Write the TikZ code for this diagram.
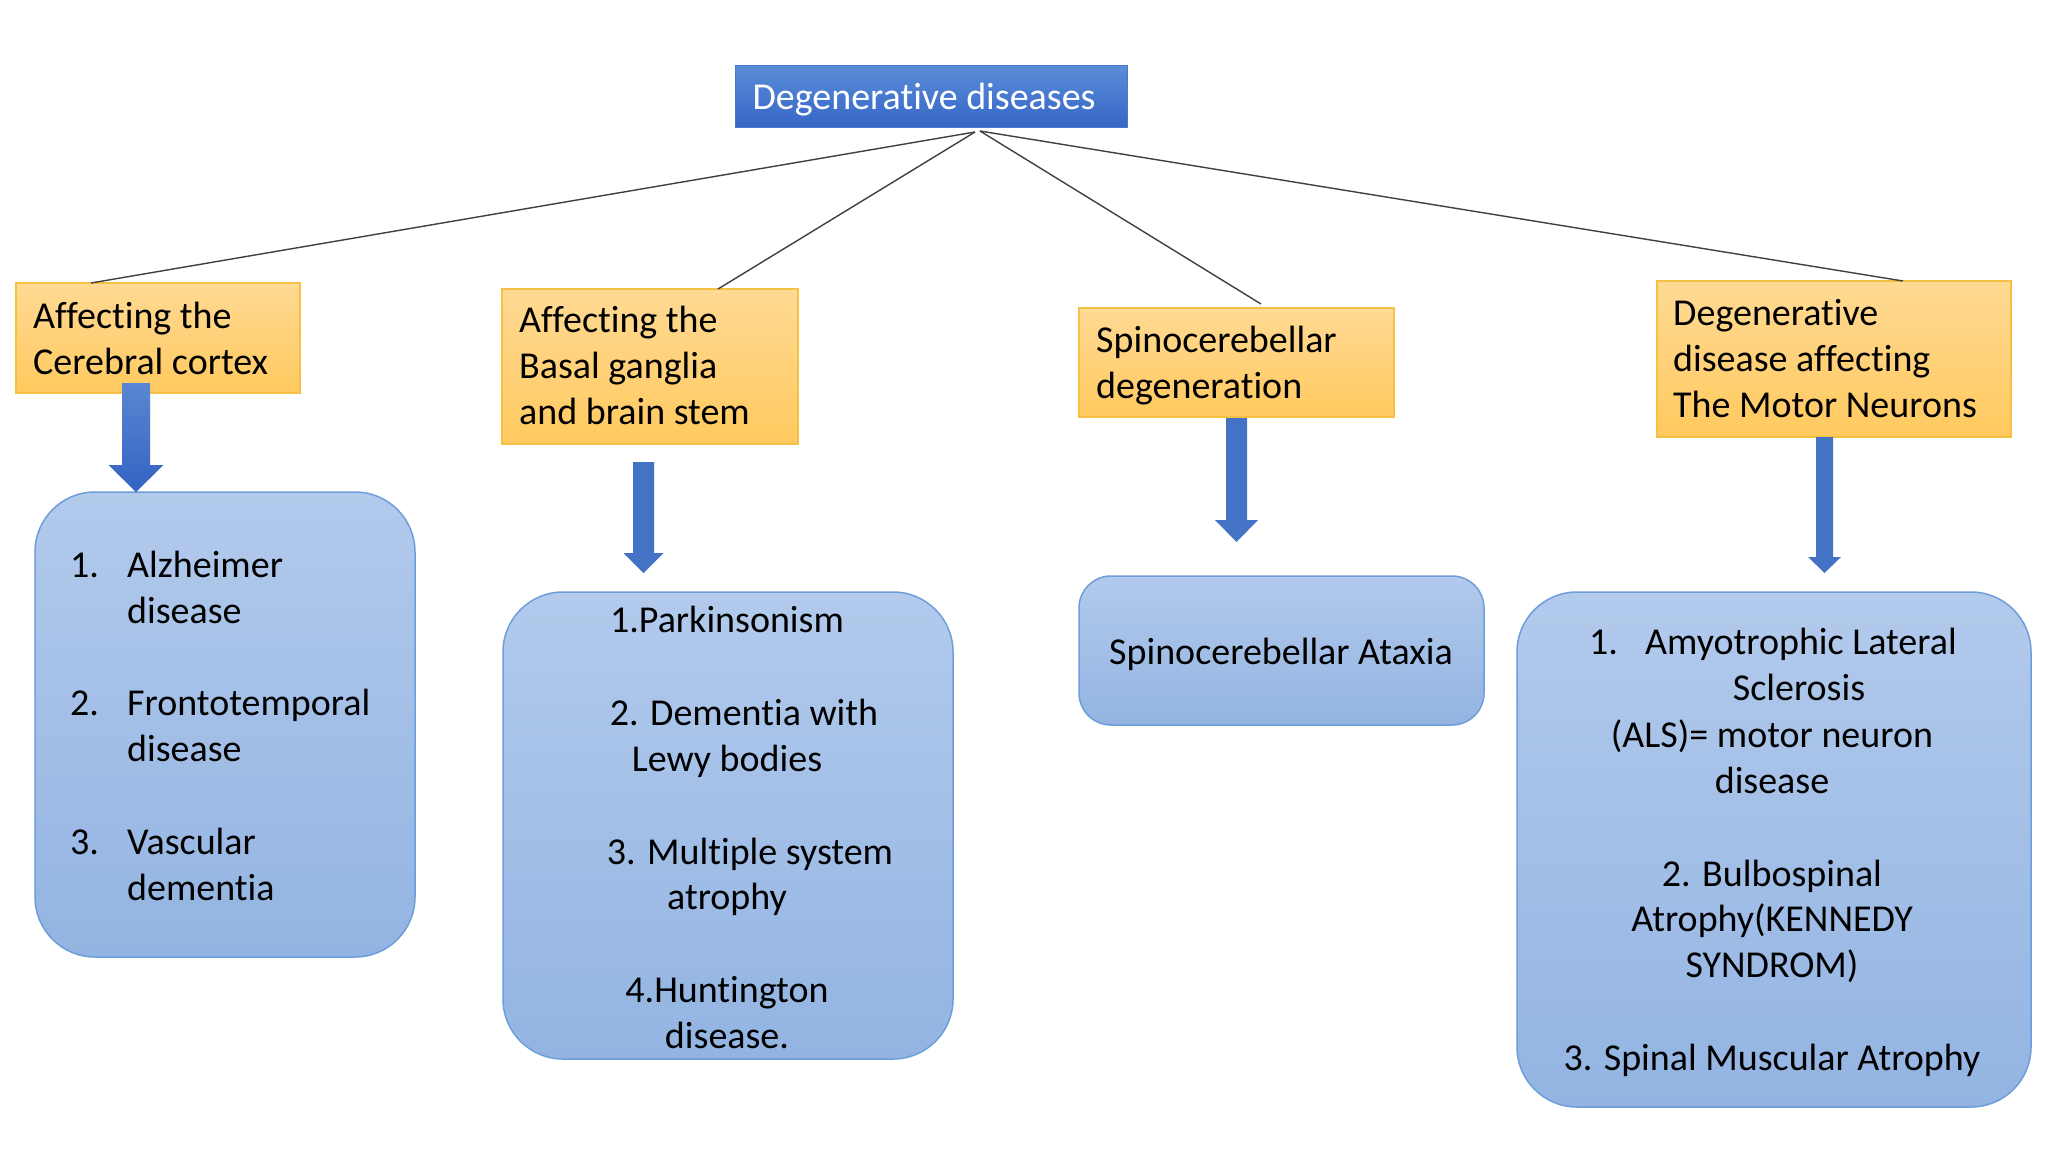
\documentclass[tikz,border=0pt]{standalone}
\usepackage{fontspec}
\setmainfont{Carlito}[Ligatures={NoCommon,NoRequired,NoContextual}]
\definecolor{orT}{HTML}{FFDA94}
\definecolor{orB}{HTML}{FFC95E}
\definecolor{orD}{HTML}{F5C145}
\definecolor{blT}{HTML}{B2CAEC}
\definecolor{blB}{HTML}{93B4E2}
\definecolor{blD}{HTML}{6E9EDA}
\definecolor{tpT}{HTML}{5B8DD9}
\definecolor{tpB}{HTML}{3566C6}
\definecolor{tpD}{HTML}{4A78CC}
\definecolor{arT}{HTML}{5987D3}
\definecolor{arB}{HTML}{3363C2}
\definecolor{arF}{HTML}{4472C4}
\definecolor{lnk}{HTML}{404040}
\newcommand{\downarr}[7]{%
  \shade[#7]
    (#1-#2,#3) -- (#1+#2,#3) -- (#1+#2,#4) -- (#1+#5,#4) -- (#1,#6)
    -- (#1-#5,#4) -- (#1-#2,#4) -- cycle;}
\begin{document}
\begin{tikzpicture}[x=1pt,y=-1pt,
  font=\fontsize{38}{46}\selectfont,
  obox/.style={draw=orD, line width=1.5pt, top color=orT, bottom color=orB,
    inner sep=0pt, outer sep=0pt, anchor=north west},
  bbox/.style={draw=blD, line width=1.5pt, top color=blT, bottom color=blB,
    inner sep=0pt, outer sep=0pt, anchor=north west, rounded corners=60pt},
  tbox/.style={draw=tpD, line width=1pt, top color=tpT, bottom color=tpB,
    inner sep=0pt, outer sep=0pt, anchor=north west},
  txt/.style={inner sep=0pt, anchor=base west},
  ctxt/.style={inner sep=0pt, anchor=base},
  link/.style={draw=lnk, line width=1.4pt},
  garrow/.style={top color=arT, bottom color=arB},
  farrow/.style={top color=arF, bottom color=arF}]
\useasboundingbox[fill=white] (0,0) rectangle (2048,1152);

% top node
\node[tbox, minimum width=392pt, minimum height=62pt] (top) at (735,65) {};
\node[ctxt, text=white] (toptxt) at (924,109) {Degenerative diseases};
\coordinate (hubL) at (975,132);
\coordinate (hubR) at (980,131);

% orange boxes
\node[obox, minimum width=284pt, minimum height=110pt] (A) at (16,283) {};
\node[obox, minimum width=296pt, minimum height=155pt] (B) at (502,289) {};
\node[obox, minimum width=315pt, minimum height=109pt] (C) at (1079,308) {};
\node[obox, minimum width=354pt, minimum height=156pt] (D) at (1657,281) {};

\coordinate (eA) at (91,283);
\coordinate (eB) at (718,289);
\coordinate (eC) at (1261,304);
\coordinate (eD) at (1903,281);
\draw[link] (hubL) -- (eA);
\draw[link] (hubL) -- (eB);
\draw[link] (hubR) -- (eC);
\draw[link] (hubR) -- (eD);

\node[txt] (a1) at (33,328) {Affecting the};
\node[txt] (a2) at (33,374) {Cerebral cortex};
\node[txt] (b1) at (519,332) {Affecting the};
\node[txt] (b2) at (519,378) {Basal ganglia};
\node[txt] (b3) at (519,424) {and brain stem};
\node[txt] (c1) at (1096,352) {Spinocerebellar};
\node[txt] (c2) at (1096,398) {degeneration};
\node[txt] (d1) at (1673,325) {Degenerative};
\node[txt] (d2) at (1673,371) {disease affecting};
\node[txt] (d3) at (1673,417) {The Motor Neurons};

% blue boxes
\node[bbox, minimum width=380pt, minimum height=465pt] (P) at (35,492) {};
\node[bbox, minimum width=450pt, minimum height=467pt] (Q) at (503,592) {};
\node[bbox, minimum width=405pt, minimum height=149pt, rounded corners=32pt] (R) at (1079,576) {};
\node[bbox, minimum width=514pt, minimum height=515pt] (S) at (1517,592) {};

% arrows
\downarr{136}{14}{383}{465}{27.5}{492}{garrow}
\downarr{643.5}{10.5}{462}{553}{20}{573}{farrow}
\downarr{1236.5}{10.5}{418}{520}{21.5}{542}{farrow}
\downarr{1824.5}{8.5}{437}{557}{16.5}{573}{farrow}

% box P text
\node[txt] (p1n) at (70,577) {1.};
\node[txt] (p1) at (127,577) {Alzheimer};
\node[txt] (p1b) at (127,623) {disease};
\node[txt] (p2n) at (70,715) {2.};
\node[txt] (p2) at (127,715) {Frontotemporal};
\node[txt] (p2b) at (127,761) {disease};
\node[txt] (p3n) at (70,854) {3.};
\node[txt] (p3) at (127,854) {Vascular};
\node[txt] (p3b) at (127,900) {dementia};

% box Q text
\node[ctxt] (q1) at (727,632) {1.Parkinsonism};
\node[ctxt] (q2) at (744,725) {2. Dementia with};
\node[ctxt] (q2b) at (727,771) {Lewy bodies};
\node[ctxt] (q3) at (750,864) {3. Multiple system};
\node[ctxt] (q3b) at (727,909) {atrophy};
\node[ctxt] (q4) at (727,1002) {4.Huntington};
\node[ctxt] (q4b) at (727,1048) {disease.};

% box R text
\node[ctxt] (r1) at (1281,664) {Spinocerebellar Ataxia};

% box S text
\node[txt] (s1n) at (1589,654) {1.};
\node[txt] (s1) at (1645,654) {Amyotrophic Lateral};
\node[ctxt] (s1b) at (1799,700) {Sclerosis};
\node[ctxt] (s1c) at (1772,747) {(ALS)= motor neuron};
\node[ctxt] (s1d) at (1772,793) {disease};
\node[ctxt] (s2) at (1772,886) {2. Bulbospinal};
\node[ctxt] (s2b) at (1772,931) {Atrophy(KENNEDY};
\node[ctxt] (s2c) at (1772,977) {SYNDROM)};
\node[ctxt] (s3) at (1772,1070) {3. Spinal Muscular Atrophy};
\end{tikzpicture}
\end{document}
